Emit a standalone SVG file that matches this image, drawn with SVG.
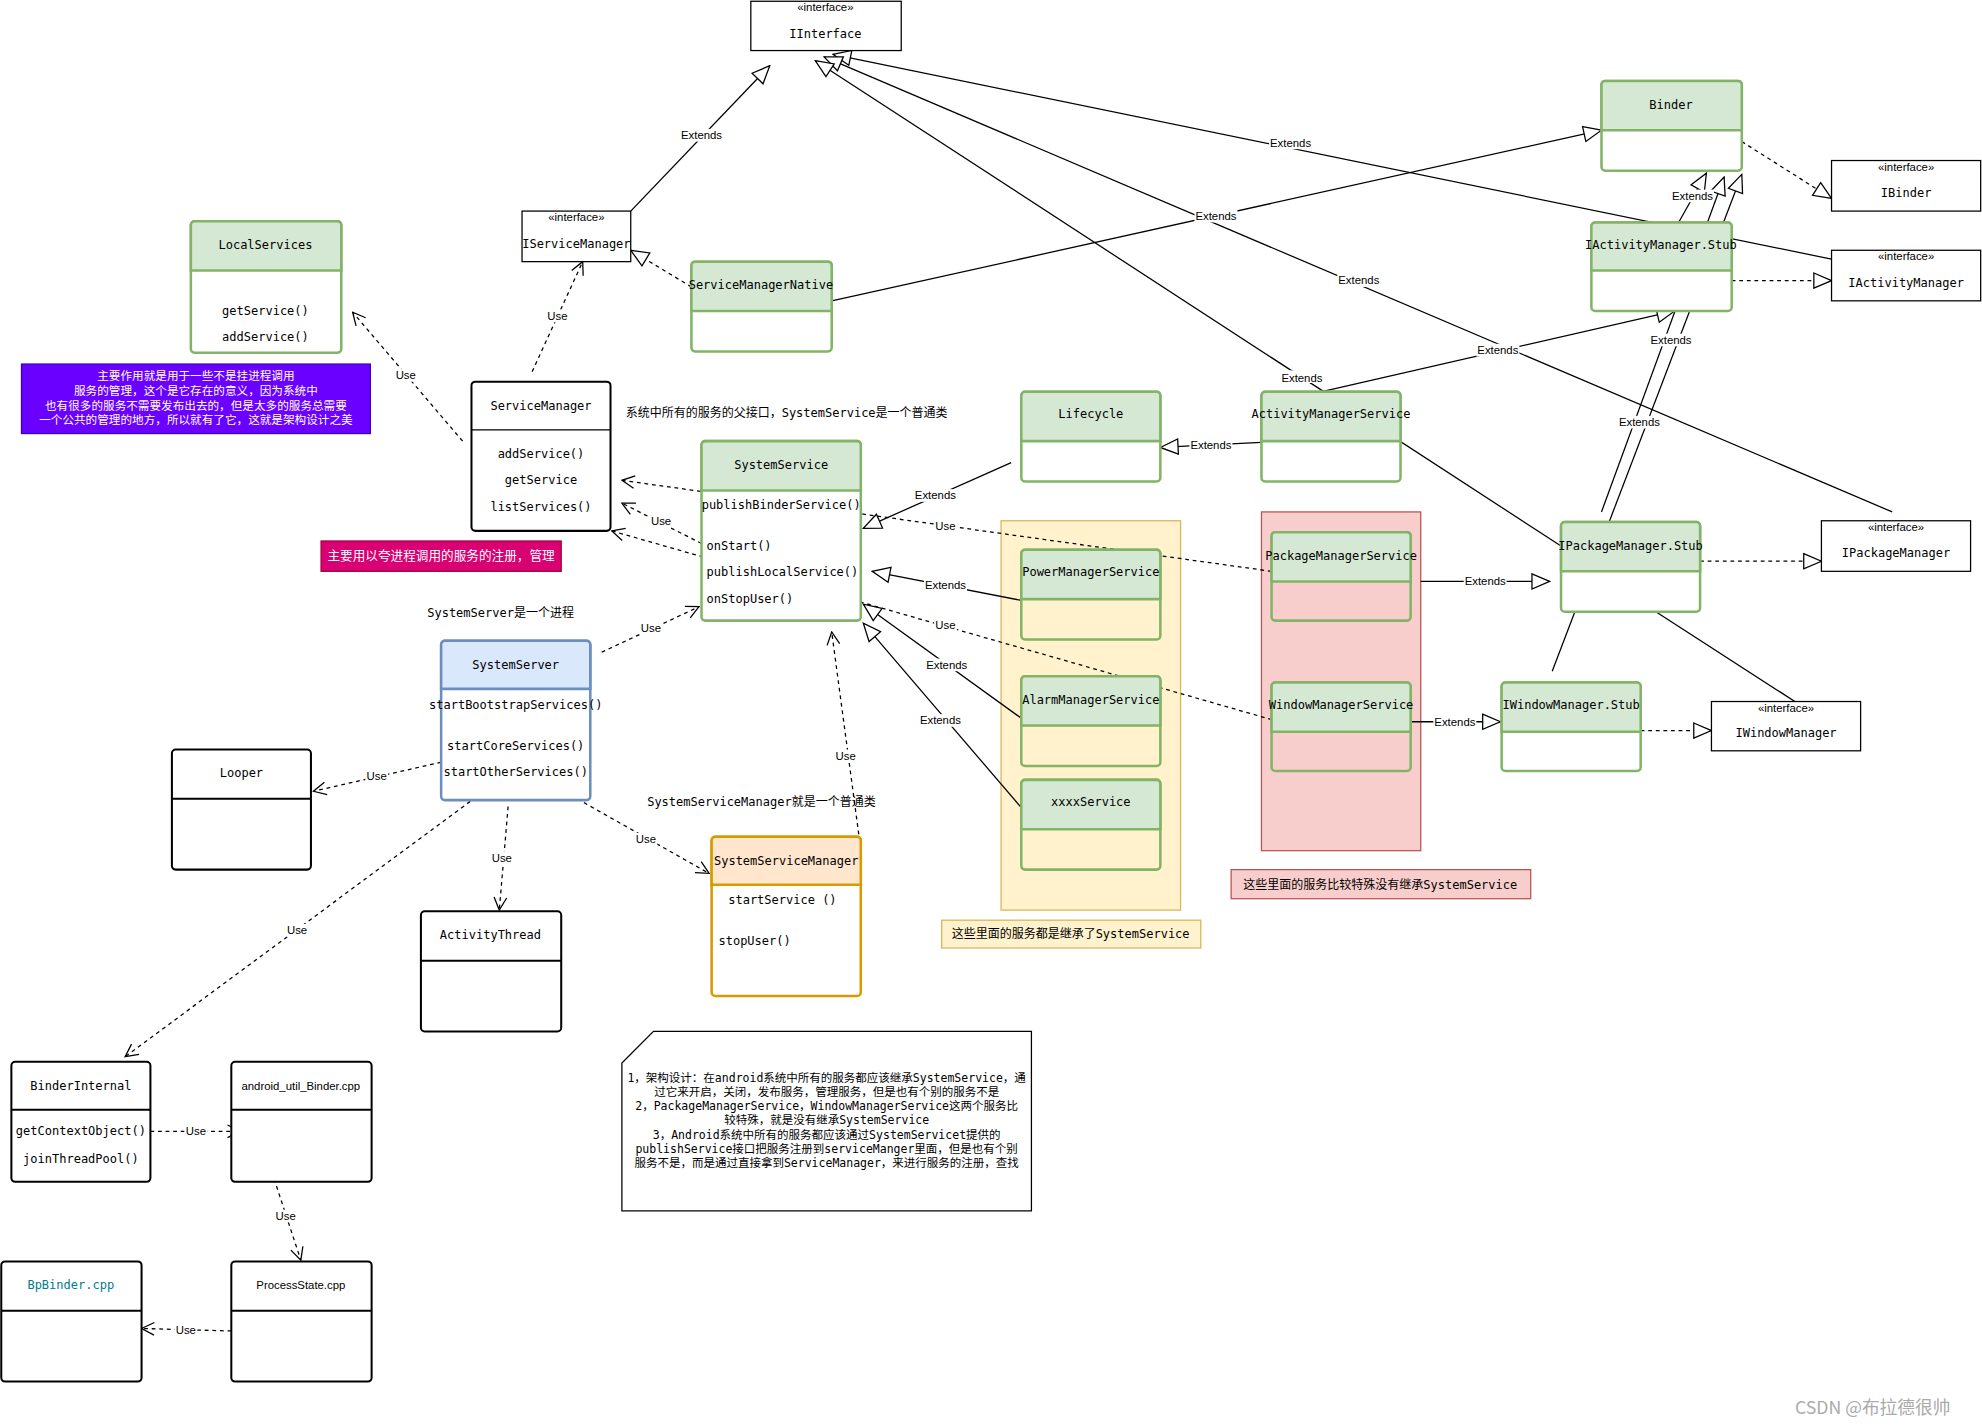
<svg xmlns="http://www.w3.org/2000/svg" width="1982" height="1427" viewBox="0 0 1982 1427">
<style>
.m{font-family:"DejaVu Sans Mono","Liberation Mono",monospace;font-size:9.5px;fill:#000;text-anchor:middle}
.s{font-family:"Liberation Sans","Noto Sans CJK SC",sans-serif;font-size:9px;fill:#000;text-anchor:middle}
.cj{font-family:"DejaVu Sans Mono","Noto Sans CJK SC",monospace;font-size:9.5px;fill:#000}
.g{fill:#d5e8d4;stroke:#82b366;stroke-width:2}
.gb{fill:#fff;stroke:#82b366;stroke-width:2}
.k{fill:#fff;stroke:#000;stroke-width:1.6}
.i{fill:#fff;stroke:#000;stroke-width:1}
.l{fill:none;stroke:#000;stroke-width:1}
.d{fill:none;stroke:#000;stroke-width:1;stroke-dasharray:3,3}
.lb{font-family:"Liberation Sans",sans-serif;font-size:9px;text-anchor:middle;fill:#000}
</style>
<defs>
<marker id="tri" markerWidth="16" markerHeight="14" refX="15" refY="7" orient="auto" markerUnits="userSpaceOnUse"><path d="M1,1 L15,7 L1,13 Z" fill="#fff" stroke="#000"/></marker>
<marker id="arr" markerWidth="12" markerHeight="12" refX="11" refY="6" orient="auto" markerUnits="userSpaceOnUse"><path d="M1,1 L11,6 L1,11" fill="none" stroke="#000"/></marker>
</defs>
<rect width="1982" height="1427" fill="#fff"/>
<g transform="scale(1.264)">
<g id="yellowRegion"><rect x="792" y="412" width="142" height="308" fill="#fff2cc" stroke="#d6b656"/></g>
<g id="pinkRegion"><rect x="998" y="405" width="126" height="268" fill="#f8cecc" stroke="#b85450"/></g>

<g id="connectors">
<line class="l" x1="499" y1="167" x2="609" y2="52" marker-end="url(#tri)"/>
<line class="l" x1="658" y1="238" x2="1267" y2="103" marker-end="url(#tri)"/>
<line class="l" x1="1449" y1="205" x2="659" y2="43" marker-end="url(#tri)"/>
<line class="l" x1="1497" y1="405" x2="652" y2="45" marker-end="url(#tri)"/>
<line class="l" x1="1235" y1="432" x2="645" y2="48" marker-end="url(#tri)"/>
<line class="l" x1="1262" y1="453" x2="1420" y2="555"/>
<line class="l" x1="1228" y1="531" x2="1378" y2="138" marker-end="url(#tri)"/>
<line class="l" x1="1267" y1="405" x2="1364" y2="140" marker-end="url(#tri)"/>
<line class="l" x1="1328" y1="176" x2="1350" y2="137" marker-end="url(#tri)"/>
<line class="l" x1="1045" y1="310" x2="1325" y2="246" marker-end="url(#tri)"/>
<line class="l" x1="998" y1="350" x2="918" y2="354" marker-end="url(#tri)"/>
<line class="l" x1="800" y1="366" x2="683" y2="418" marker-end="url(#tri)"/>
<line class="l" x1="808" y1="475" x2="690" y2="452" marker-end="url(#tri)"/>
<line class="l" x1="816" y1="574" x2="683" y2="478" marker-end="url(#tri)"/>
<line class="l" x1="808" y1="639" x2="683" y2="493" marker-end="url(#tri)"/>
<line class="l" x1="1124" y1="460" x2="1226" y2="460" marker-end="url(#tri)"/>
<line class="l" x1="1116" y1="571" x2="1187" y2="571" marker-end="url(#tri)"/>
<line class="d" x1="1378" y1="112" x2="1449" y2="157" marker-end="url(#tri)"/>
<line class="d" x1="1370" y1="222" x2="1449" y2="222" marker-end="url(#tri)"/>
<line class="d" x1="1345" y1="444" x2="1441" y2="444" marker-end="url(#tri)"/>
<line class="d" x1="1298" y1="578" x2="1354" y2="578" marker-end="url(#tri)"/>
<line class="d" x1="547" y1="227" x2="499" y2="198" marker-end="url(#tri)"/>
<line class="d" x1="421" y1="294" x2="461" y2="207" marker-end="url(#arr)"/>
<line class="d" x1="366" y1="349" x2="279" y2="247" marker-end="url(#arr)"/>
<line class="d" x1="555" y1="430" x2="492" y2="398" marker-end="url(#arr)"/>
<line class="d" x1="1006" y1="452" x2="492" y2="380" marker-end="url(#arr)"/>
<line class="d" x1="1012" y1="571" x2="484" y2="420" marker-end="url(#arr)"/>
<line class="d" x1="476" y1="516" x2="553" y2="480" marker-end="url(#arr)"/>
<line class="d" x1="349" y1="603" x2="248" y2="626" marker-end="url(#arr)"/>
<line class="d" x1="402" y1="638" x2="395" y2="720" marker-end="url(#arr)"/>
<line class="d" x1="462" y1="635" x2="561" y2="691" marker-end="url(#arr)"/>
<line class="d" x1="372" y1="634" x2="99" y2="836" marker-end="url(#arr)"/>
<line class="d" x1="681" y1="672" x2="658" y2="500" marker-end="url(#arr)"/>
<line class="d" x1="119" y1="895" x2="190" y2="895" marker-end="url(#arr)"/>
<line class="d" x1="215" y1="927" x2="238" y2="997" marker-end="url(#arr)"/>
<line class="d" x1="183" y1="1053" x2="112" y2="1051" marker-end="url(#arr)"/>
<g>
<rect x="538" y="102" width="34" height="10" fill="#fff"/><text class="lb" x="555" y="110">Extends</text>
<rect x="945" y="166" width="34" height="10" fill="#fff"/><text class="lb" x="962" y="174">Extends</text>
<rect x="1004" y="108" width="34" height="10" fill="#fff"/><text class="lb" x="1021" y="116">Extends</text>
<rect x="1058" y="217" width="34" height="10" fill="#fff"/><text class="lb" x="1075" y="225">Extends</text>
<rect x="1013" y="293" width="34" height="10" fill="#fff"/><text class="lb" x="1030" y="302">Extends</text>
<rect x="1280" y="329" width="34" height="10" fill="#fff"/><text class="lb" x="1297" y="337">Extends</text>
<rect x="1305" y="264" width="34" height="10" fill="#fff"/><text class="lb" x="1322" y="272">Extends</text>
<rect x="1322" y="150" width="34" height="10" fill="#fff"/><text class="lb" x="1339" y="158">Extends</text>
<rect x="1168" y="272" width="34" height="10" fill="#fff"/><text class="lb" x="1185" y="280">Extends</text>
<rect x="941" y="347" width="34" height="10" fill="#fff"/><text class="lb" x="958" y="355">Extends</text>
<rect x="723" y="387" width="34" height="10" fill="#fff"/><text class="lb" x="740" y="395">Extends</text>
<rect x="731" y="458" width="34" height="10" fill="#fff"/><text class="lb" x="748" y="466">Extends</text>
<rect x="732" y="521" width="34" height="10" fill="#fff"/><text class="lb" x="749" y="529">Extends</text>
<rect x="727" y="565" width="34" height="10" fill="#fff"/><text class="lb" x="744" y="573">Extends</text>
<rect x="1158" y="455" width="34" height="10" fill="#fff"/><text class="lb" x="1175" y="463">Extends</text>
<rect x="1134" y="566" width="34" height="10" fill="#fff"/><text class="lb" x="1151" y="574">Extends</text>
<rect x="432" y="245" width="18" height="10" fill="#fff"/><text class="lb" x="441" y="253">Use</text>
<rect x="312" y="292" width="18" height="10" fill="#fff"/><text class="lb" x="321" y="300">Use</text>
<rect x="514" y="407" width="18" height="10" fill="#fff"/><text class="lb" x="523" y="415">Use</text>
<rect x="739" y="411" width="18" height="10" fill="#fff"/><text class="lb" x="748" y="419">Use</text>
<rect x="739" y="490" width="18" height="10" fill="#fff"/><text class="lb" x="748" y="498">Use</text>
<rect x="506" y="492" width="18" height="10" fill="#fff"/><text class="lb" x="515" y="500">Use</text>
<rect x="289" y="609" width="18" height="10" fill="#fff"/><text class="lb" x="298" y="617">Use</text>
<rect x="388" y="674" width="18" height="10" fill="#fff"/><text class="lb" x="397" y="682">Use</text>
<rect x="502" y="659" width="18" height="10" fill="#fff"/><text class="lb" x="511" y="667">Use</text>
<rect x="226" y="731" width="18" height="10" fill="#fff"/><text class="lb" x="235" y="739">Use</text>
<rect x="660" y="593" width="18" height="10" fill="#fff"/><text class="lb" x="669" y="601">Use</text>
<rect x="146" y="890" width="18" height="10" fill="#fff"/><text class="lb" x="155" y="898">Use</text>
<rect x="217" y="957" width="18" height="10" fill="#fff"/><text class="lb" x="226" y="965">Use</text>
<rect x="138" y="1047" width="18" height="10" fill="#fff"/><text class="lb" x="147" y="1055">Use</text>
</g>
</g>

<g id="IInterface"><rect class="i" x="594" y="1" width="119" height="39"/><text class="s" x="653" y="9">«interface»</text><text class="m" x="653" y="30">IInterface</text></g>
<g id="IServiceManager"><rect class="i" x="413" y="167" width="86" height="40"/><text class="s" x="456" y="175">«interface»</text><text class="m" x="456" y="196">IServiceManager</text></g>
<g id="ServiceManagerNative"><rect class="gb" x="547" y="207" width="111" height="71" rx="3"/><path class="g" d="M547,246 V210 a3,3 0 0 1 3,-3 H655 a3,3 0 0 1 3,3 V246 Z"/><text class="m" x="602" y="229">ServiceManagerNative</text></g>
<g id="LocalServices"><rect class="gb" x="151" y="175" width="119" height="104" rx="3"/><path class="g" d="M151,214 V178 a3,3 0 0 1 3,-3 H267 a3,3 0 0 1 3,3 V214 Z"/><text class="m" x="210" y="197">LocalServices</text><text class="m" x="210" y="249">getService()</text><text class="m" x="210" y="270">addService()</text></g>
<g id="Binder"><rect class="gb" x="1267" y="64" width="111" height="71" rx="3"/><path class="g" d="M1267,103 V67 a3,3 0 0 1 3,-3 H1375 a3,3 0 0 1 3,3 V103 Z"/><text class="m" x="1322" y="86">Binder</text></g>
<g id="IBinder"><rect class="i" x="1449" y="127" width="118" height="40"/><text class="s" x="1508" y="135">«interface»</text><text class="m" x="1508" y="156">IBinder</text></g>
<g id="IActivityManagerStub"><rect class="gb" x="1259" y="176" width="111" height="70" rx="3"/><path class="g" d="M1259,214 V179 a3,3 0 0 1 3,-3 H1367 a3,3 0 0 1 3,3 V214 Z"/><text class="m" x="1314" y="197">IActivityManager.Stub</text></g>
<g id="IActivityManager"><rect class="i" x="1449" y="198" width="118" height="40"/><text class="s" x="1508" y="206">«interface»</text><text class="m" x="1508" y="227">IActivityManager</text></g>
<g id="ServiceManager"><rect class="k" x="373" y="302" width="110" height="118" rx="3"/><line class="l" x1="373" y1="340" x2="483" y2="340" stroke-width="1.6"/><text class="m" x="428" y="324">ServiceManager</text><text class="m" x="428" y="362">addService()</text><text class="m" x="428" y="383">getService</text><text class="m" x="428" y="404">listServices()</text></g>
<g id="purpleNote"><rect x="17" y="288" width="276" height="55" fill="#6a00ff" stroke="#3700cc"/>
<text class="s" style="fill:#fff;font-family:'Noto Sans CJK SC',sans-serif;font-size:9.2px"><tspan x="155" y="301">主要作用就是用于一些不是挂进程调用</tspan><tspan x="155" y="312.5">服务的管理，这个是它存在的意义，因为系统中</tspan><tspan x="155" y="324">也有很多的服务不需要发布出去的，但是太多的服务总需要</tspan><tspan x="155" y="335.5">一个公共的管理的地方，所以就有了它，这就是架构设计之美</tspan></text></g>
<g id="pinkNote"><rect x="254" y="428" width="190" height="24" fill="#d80073" stroke="#a50040"/><text class="s" x="349" y="443" style="fill:#fff;font-family:'Noto Sans CJK SC',sans-serif;font-size:10px">主要用以夸进程调用的服务的注册，管理</text></g>
<g id="txt1"><text class="cj" x="495" y="330">系统中所有的服务的父接口，SystemService是一个普通类</text></g>
<g id="SystemService"><rect class="gb" x="555" y="349" width="126" height="142" rx="3"/><path class="g" d="M555,388 V352 a3,3 0 0 1 3,-3 H678 a3,3 0 0 1 3,3 V388 Z"/><text class="m" x="618" y="371">SystemService</text><text class="m" x="618" y="403">publishBinderService()</text><text class="m" x="559" y="435" style="text-anchor:start">onStart()</text><text class="m" x="559" y="456" style="text-anchor:start">publishLocalService()</text><text class="m" x="559" y="477" style="text-anchor:start">onStopUser()</text></g>
<g id="Lifecycle"><rect class="gb" x="808" y="310" width="110" height="71" rx="3"/><path class="g" d="M808,349 V313 a3,3 0 0 1 3,-3 H915 a3,3 0 0 1 3,3 V349 Z"/><text class="m" x="863" y="331">Lifecycle</text></g>
<g id="ActivityManagerService"><rect class="gb" x="998" y="310" width="110" height="71" rx="3"/><path class="g" d="M998,349 V313 a3,3 0 0 1 3,-3 H1105 a3,3 0 0 1 3,3 V349 Z"/><text class="m" x="1053" y="331">ActivityManagerService</text></g>
<g id="PowerManagerService"><rect x="808" y="435" width="110" height="71" rx="3" fill="none" stroke="#82b366" stroke-width="2"/><path class="g" d="M808,474 V438 a3,3 0 0 1 3,-3 H915 a3,3 0 0 1 3,3 V474 Z"/><text class="m" x="863" y="456">PowerManagerService</text></g>
<g id="AlarmManagerService"><rect x="808" y="535" width="110" height="71" rx="3" fill="none" stroke="#82b366" stroke-width="2"/><path class="g" d="M808,574 V538 a3,3 0 0 1 3,-3 H915 a3,3 0 0 1 3,3 V574 Z"/><text class="m" x="863" y="557">AlarmManagerService</text></g>
<g id="xxxxService"><rect x="808" y="617" width="110" height="71" rx="3" fill="none" stroke="#82b366" stroke-width="2"/><path class="g" d="M808,656 V620 a3,3 0 0 1 3,-3 H915 a3,3 0 0 1 3,3 V656 Z"/><text class="m" x="863" y="638">xxxxService</text></g>
<g id="yellowLabel"><rect x="745" y="728" width="205" height="22" fill="#fff2cc" stroke="#d6b656"/><text class="cj" x="847" y="742" text-anchor="middle">这些里面的服务都是继承了SystemService</text></g>
<g id="PackageManagerService"><rect x="1006" y="421" width="110" height="70" rx="3" fill="none" stroke="#82b366" stroke-width="2"/><path class="g" d="M1006,460 V424 a3,3 0 0 1 3,-3 H1113 a3,3 0 0 1 3,3 V460 Z"/><text class="m" x="1061" y="443">PackageManagerService</text></g>
<g id="WindowManagerService"><rect x="1006" y="540" width="110" height="70" rx="3" fill="none" stroke="#82b366" stroke-width="2"/><path class="g" d="M1006,579 V543 a3,3 0 0 1 3,-3 H1113 a3,3 0 0 1 3,3 V579 Z"/><text class="m" x="1061" y="561">WindowManagerService</text></g>
<g id="pinkLabel"><rect x="974" y="688" width="237" height="23" fill="#f8cecc" stroke="#b85450"/><text class="cj" x="1092" y="703" text-anchor="middle">这些里面的服务比较特殊没有继承SystemService</text></g>
<g id="IPackageManagerStub"><rect class="gb" x="1235" y="413" width="110" height="71" rx="3"/><path class="g" d="M1235,452 V416 a3,3 0 0 1 3,-3 H1342 a3,3 0 0 1 3,3 V452 Z"/><text class="m" x="1290" y="435">IPackageManager.Stub</text></g>
<g id="IPackageManager"><rect class="i" x="1441" y="412" width="118" height="40"/><text class="s" x="1500" y="420">«interface»</text><text class="m" x="1500" y="441">IPackageManager</text></g>
<g id="IWindowManagerStub"><rect class="gb" x="1188" y="540" width="110" height="70" rx="3"/><path class="g" d="M1188,579 V543 a3,3 0 0 1 3,-3 H1295 a3,3 0 0 1 3,3 V579 Z"/><text class="m" x="1243" y="561">IWindowManager.Stub</text></g>
<g id="IWindowManager"><rect class="i" x="1354" y="555" width="118" height="39"/><text class="s" x="1413" y="563">«interface»</text><text class="m" x="1413" y="583">IWindowManager</text></g>
<g id="txt2"><text class="cj" x="338" y="488">SystemServer是一个进程</text></g>
<g id="SystemServer"><rect x="349" y="507" width="118" height="126" rx="3" fill="#fff" stroke="#6c8ebf" stroke-width="2"/><path d="M349,545 V510 a3,3 0 0 1 3,-3 H464 a3,3 0 0 1 3,3 V545 Z" fill="#dae8fc" stroke="#6c8ebf" stroke-width="2"/><text class="m" x="408" y="529">SystemServer</text><text class="m" x="408" y="561">startBootstrapServices()</text><text class="m" x="408" y="593">startCoreServices()</text><text class="m" x="408" y="614">startOtherServices()</text></g>
<g id="Looper"><rect class="k" x="136" y="593" width="110" height="95" rx="3"/><line x1="136" y1="632" x2="246" y2="632" stroke="#000" stroke-width="1.6"/><text class="m" x="191" y="615">Looper</text></g>
<g id="ActivityThread"><rect class="k" x="333" y="721" width="111" height="95" rx="3"/><line x1="333" y1="760" x2="444" y2="760" stroke="#000" stroke-width="1.6"/><text class="m" x="388" y="743">ActivityThread</text></g>
<g id="txt3"><text class="cj" x="512" y="638">SystemServiceManager就是一个普通类</text></g>
<g id="SystemServiceManager"><rect x="563" y="662" width="118" height="126" rx="3" fill="#fff" stroke="#d79b00" stroke-width="2"/><path d="M563,700 V665 a3,3 0 0 1 3,-3 H678 a3,3 0 0 1 3,3 V700 Z" fill="#ffe6cc" stroke="#d79b00" stroke-width="2"/><text class="m" x="622" y="684">SystemServiceManager</text><text class="m" x="619" y="715">startService ()</text><text class="m" x="597" y="748">stopUser()</text></g>
<g id="archNote"><path d="M517,816 H816 V958 H492 V841 Z" fill="#fff" stroke="#000"/>
<text class="cj" text-anchor="middle" style="font-size:9.1px"><tspan x="654" y="856">1，架构设计：在android系统中所有的服务都应该继承SystemService，通</tspan><tspan x="654" y="867">过它来开启，关闭，发布服务，管理服务，但是也有个别的服务不是</tspan><tspan x="654" y="878">2，PackageManagerService，WindowManagerService这两个服务比</tspan><tspan x="654" y="889">较特殊，就是没有继承SystemService</tspan><tspan x="654" y="901">3，Android系统中所有的服务都应该通过SystemServicet提供的</tspan><tspan x="654" y="912">publishService接口把服务注册到serviceManger里面，但是也有个别</tspan><tspan x="654" y="923">服务不是，而是通过直接拿到ServiceManager，来进行服务的注册，查找</tspan></text></g>
<g id="BinderInternal"><rect class="k" x="9" y="840" width="110" height="95" rx="3"/><line x1="9" y1="878" x2="119" y2="878" stroke="#000" stroke-width="1.6"/><text class="m" x="64" y="862">BinderInternal</text><text class="m" x="64" y="898">getContextObject()</text><text class="m" x="64" y="920">joinThreadPool()</text></g>
<g id="androidUtilBinder"><rect class="k" x="183" y="840" width="111" height="95" rx="3"/><line x1="183" y1="878" x2="294" y2="878" stroke="#000" stroke-width="1.6"/><text class="s" x="238" y="862">android_util_Binder.cpp</text></g>
<g id="BpBinder"><rect class="k" x="1" y="998" width="111" height="95" rx="3"/><line x1="1" y1="1037" x2="112" y2="1037" stroke="#000" stroke-width="1.6"/><text class="m" x="56" y="1020" style="fill:#007c8c">BpBinder.cpp</text></g>
<g id="ProcessState"><rect class="k" x="183" y="998" width="111" height="95" rx="3"/><line x1="183" y1="1037" x2="294" y2="1037" stroke="#000" stroke-width="1.6"/><text class="s" x="238" y="1020">ProcessState.cpp</text></g>
<g id="watermark"><text x="1420" y="1119" style="font-family:'Noto Sans CJK SC',sans-serif;font-size:14px;fill:#aaa">CSDN @布拉德很帅</text></g>
</g>
</svg>
